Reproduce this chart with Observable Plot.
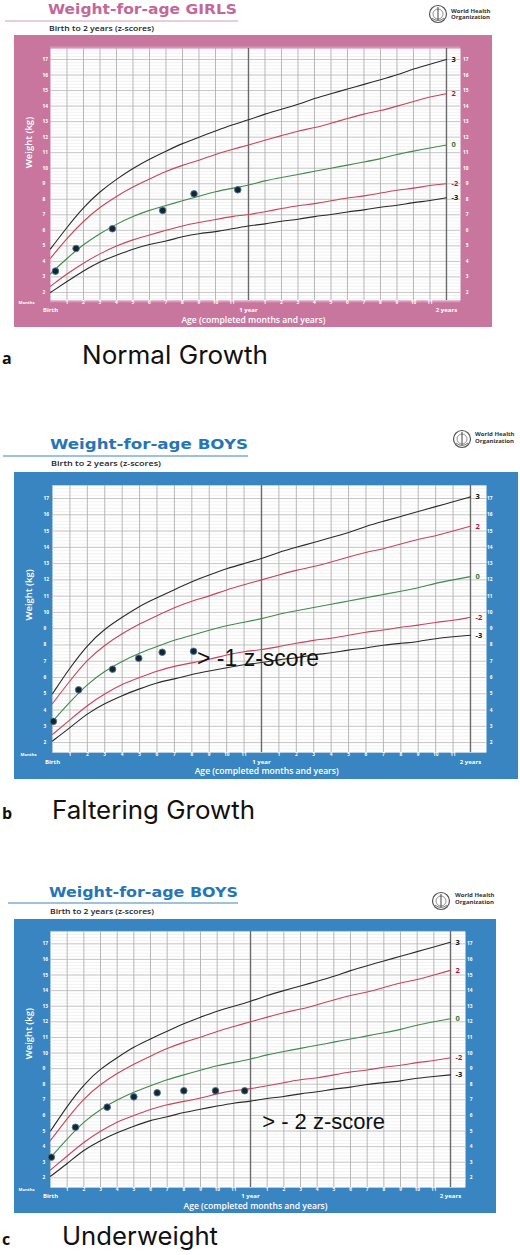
<!DOCTYPE html>
<html><head><meta charset="utf-8">
<script src="https://cdn.jsdelivr.net/npm/d3@7"></script>
<script src="https://cdn.jsdelivr.net/npm/@observablehq/plot@0.6"></script>
<style>
body{margin:0;background:#fff;}
#page{position:relative;width:520px;height:1255px;overflow:hidden;background:#fff;font-family:"Open Sans",sans-serif;}
.box{position:absolute;}
</style></head><body><div id="page"></div>
<script>
// ---- data ----
const ageMonths = [0,1,2,3,4,5,6,7,8,9,10,11,12,13,14,15,16,17,18,19,20,21,22,23,24];
const weightTicks = [2,3,4,5,6,7,8,9,10,11,12,13,14,15,16,17];
const zLabels = ["3","2","0","-2","-3"];

const girlsP3 = [4.8,6.2,7.5,8.5,9.3,10.0,10.6,11.1,11.6,12.0,12.4,12.8,13.1,13.5,13.8,14.1,14.5,14.8,15.1,15.4,15.7,16.0,16.4,16.7,17.0];
const girlsP2 = [4.2,5.5,6.6,7.5,8.2,8.8,9.3,9.8,10.2,10.5,10.9,11.2,11.5,11.8,12.1,12.4,12.6,12.9,13.2,13.5,13.7,14.0,14.3,14.6,14.8];
const girls0  = [3.2,4.2,5.1,5.8,6.4,6.9,7.3,7.6,7.9,8.2,8.5,8.7,8.9,9.2,9.4,9.6,9.8,10.0,10.2,10.4,10.6,10.9,11.1,11.3,11.5];
const girlsM2 = [2.4,3.2,3.9,4.5,5.0,5.4,5.7,6.0,6.3,6.5,6.7,6.9,7.0,7.2,7.4,7.6,7.7,7.9,8.1,8.2,8.4,8.6,8.7,8.9,9.0];
const girlsM3 = [2.0,2.7,3.4,4.0,4.4,4.8,5.1,5.3,5.6,5.8,5.9,6.1,6.3,6.4,6.6,6.7,6.9,7.0,7.2,7.3,7.5,7.6,7.8,7.9,8.1];

const boysP3 = [5.0,6.6,8.0,9.0,9.7,10.4,10.9,11.4,11.9,12.3,12.7,13.0,13.3,13.7,14.0,14.3,14.6,14.9,15.3,15.6,15.9,16.2,16.5,16.8,17.1];
const boysP2 = [4.4,5.8,7.1,8.0,8.7,9.3,9.8,10.3,10.7,11.0,11.4,11.7,12.0,12.3,12.6,12.8,13.1,13.4,13.7,13.9,14.2,14.5,14.7,15.0,15.3];
const boys0  = [3.3,4.5,5.6,6.4,7.0,7.5,7.9,8.3,8.6,8.9,9.2,9.4,9.6,9.9,10.1,10.3,10.5,10.7,10.9,11.1,11.3,11.5,11.8,12.0,12.2];
const boysM2 = [2.5,3.4,4.3,5.0,5.6,6.0,6.4,6.7,6.9,7.1,7.4,7.6,7.7,7.9,8.1,8.3,8.4,8.6,8.8,8.9,9.1,9.2,9.4,9.5,9.7];
const boysM3 = [2.1,2.9,3.8,4.4,4.9,5.3,5.7,5.9,6.2,6.4,6.6,6.8,6.9,7.1,7.2,7.4,7.5,7.7,7.8,8.0,8.1,8.2,8.4,8.5,8.6];

const normalAge = [0.3,1.55,3.75,6.8,8.7,11.35];
const normalWeight = [3.37,4.83,6.1,7.28,8.35,8.61];
const falteringAge = [0.05,1.5,3.45,4.95,6.3,8.1];
const falteringWeight = [3.3,5.24,6.51,7.18,7.55,7.61];
const underAge = [0.05,1.5,3.4,5.0,6.4,8.0,9.9,11.65];
const underWeight = [3.32,5.24,6.53,7.19,7.45,7.58,7.58,7.58];

// ---- helpers ----
const page = d3.select("#page");
const ov = page.append("svg").attr("width",520).attr("height",1255)
  .style("position","absolute").style("left","0px").style("top","0px");
function txt(x, y, s, o = {}) {
  const t = ov.append("text").attr("x", x).attr("y", y).text(s)
    .attr("font-family", o.family || "Open Sans")
    .attr("font-size", o.size || 10)
    .attr("font-weight", o.weight || "normal")
    .attr("fill", o.fill || "#111");
  if (o.width) t.attr("textLength", o.width).attr("lengthAdjust", "spacingAndGlyphs");
  return t;
}
function logo(cx, cy, tx, ty) {
  const g = ov.append("g");
  g.append("circle").attr("cx",cx).attr("cy",cy).attr("r",8.5).attr("fill","none").attr("stroke","#555").attr("stroke-width",1.2);
  g.append("circle").attr("cx",cx).attr("cy",cy).attr("r",5).attr("fill","none").attr("stroke","#777").attr("stroke-width",0.8);
  g.append("line").attr("x1",cx).attr("x2",cx).attr("y1",cy-7).attr("y2",cy+6).attr("stroke","#444").attr("stroke-width",1);
  g.append("path").attr("d",`M${cx-6},${cy+4}Q${cx},${cy+9} ${cx+6},${cy+4}`).attr("fill","none").attr("stroke","#666").attr("stroke-width",0.9);
  txt(tx, ty, "World Health", {size:6, weight:"bold", fill:"#333"});
  txt(tx, ty+6.5, "Organization", {size:6, weight:"bold", fill:"#333"});
}
function header(h) {
  txt(h.tx, h.base, h.title, {size:14.5, weight:"bold", fill:h.color, width:h.tw, family:"DejaVu Sans"});
  ov.append("rect").attr("x", h.ux1).attr("y", h.uy).attr("width", h.ux2 - h.ux1).attr("height", 1).attr("fill", h.ucolor);
  txt(h.tx + 1, h.sub, "Birth to 2 years (z-scores)", {size:7.6, weight:600, fill:"#222", width:h.sw});
  logo(h.lx, h.ly, h.ltx, h.lty);
}
function caption(letter, y, label, x, w) {
  txt(2, y, letter, {size:16, weight:"bold", fill:"#111", family:"Open Sans"});
  txt(x, y, label, {size:25, fill:"#111", family:"Inter", width:w});
}

function growthPanel(cfg) {
  const series = [
    {v: cfg.sd[0], label: zLabels[0], color: "#2a2a2a"},
    {v: cfg.sd[1], label: zLabels[1], color: "#c8435b"},
    {v: cfg.sd[2], label: zLabels[2], color: "#3f8a4f"},
    {v: cfg.sd[3], label: zLabels[3], color: "#c8435b"},
    {v: cfg.sd[4], label: zLabels[4], color: "#2a2a2a"}
  ];
  const labelColors = ["#111","#b8152e","#2f7a3a","#b8152e","#111"];
  const minor = d3.range(1.4, 17.9, 0.2);
  const monthGrid = ageMonths.filter(m => m % 12 !== 0);
  const monthTickData = monthGrid.map(m => ({m, t: String(m % 12)}));
  const visits = cfg.age.map((a, i) => ({a, w: cfg.weight[i]}));
  const wl = "white";
  const marks = [
    Plot.frame({fill: "white", stroke: "none"}),
    Plot.ruleY(minor, {stroke: "#e4e4e4", strokeWidth: 0.5}),
    Plot.ruleY(weightTicks, {stroke: "#bcbcbc", strokeWidth: 0.8}),
    Plot.ruleX(monthGrid, {stroke: "#b0b0b0", strokeWidth: 0.9}),
    Plot.ruleX([12, 24], {stroke: "#6a6a6a", strokeWidth: 1.4}),
    ...series.map(s => Plot.line(ageMonths, {x: d => d, y: (d, i) => s.v[i], stroke: s.color, strokeWidth: 1.1, curve: "basis"})),
    ...series.map((s, k) => Plot.text([{m: 24, w: s.v[24], t: s.label}], {x: "m", y: "w", text: "t", dx: 5, textAnchor: "start", fill: labelColors[k], fontSize: 7.5, fontWeight: "bold"})),
    Plot.dot(visits, {x: "a", y: "w", r: 3.3, fill: "#142636", stroke: "#50788c", strokeWidth: 0.9}),
    Plot.text(weightTicks, {y: d => d, text: d => String(d), frameAnchor: "left", dx: cfg.ldx, fill: wl, fontSize: 4.8, fontWeight: "bold"}),
    Plot.text(weightTicks, {y: d => d, text: d => String(d), frameAnchor: "right", dx: cfg.rdx, fill: wl, fontSize: 4.8, fontWeight: "bold"}),
    Plot.text([{w: cfg.wlabelY}], {y: "w", text: () => "Weight (kg)", frameAnchor: "left", dx: cfg.wdx, rotate: -90, fill: wl, fontSize: 9.5, fontWeight: 600}),
    Plot.text(monthTickData, {x: "m", text: "t", frameAnchor: "bottom", dy: cfg.mdy, fill: wl, fontSize: 4.8, fontWeight: "bold"}),
    Plot.text([{m: 0}], {x: "m", text: () => "Months", frameAnchor: "bottom", dy: cfg.mdy, dx: -24, fill: wl, fontSize: 4.2, fontWeight: "bold"}),
    Plot.text([{m: 0, t: "Birth"}, {m: 12, t: "1 year"}, {m: 24, t: "2 years"}], {x: "m", text: "t", frameAnchor: "bottom", dy: cfg.bdy, fill: wl, fontSize: 6, fontWeight: "bold"}),
    Plot.text([{m: 12.3}], {x: "m", text: () => "Age (completed months and years)", frameAnchor: "bottom", dy: cfg.ady, fill: wl, fontSize: 8.6, fontWeight: 600})
  ];
  if (cfg.note) marks.push(Plot.text([cfg.note], {x: "m", y: "w", text: "t", textAnchor: "start", fontSize: cfg.note.size, fontFamily: "Liberation Sans", fill: "#111"}));
  const p = Plot.plot({
    width: cfg.w, height: cfg.h,
    marginLeft: cfg.ml, marginRight: cfg.mr, marginTop: cfg.mt, marginBottom: cfg.mb,
    style: {background: cfg.bg, fontFamily: "Open Sans", overflow: "visible"},
    x: {domain: [0, cfg.xmax], axis: null},
    y: {domain: [cfg.ymin, cfg.ymax], axis: null},
    marks
  });
  page.append("div").attr("class", "box").style("left", cfg.left + "px").style("top", cfg.top + "px").node().appendChild(p);
}

// ---- panel a ----
header({tx:48, base:14, title:"Weight-for-age GIRLS", color:"#c4679a", tw:189, ux1:5, ux2:238, uy:20.5, ucolor:"#d69bb9", sub:30.5, sw:105, lx:438, ly:14, ltx:451, lty:12.5});
growthPanel({left:14, top:35, w:478, h:292, ml:36, mr:32, mt:13, mb:27, xmax:24.85, ymin:1.48, ymax:17.71,
  bg:"#c9769f", sd:[girlsP3, girlsP2, girls0, girlsM2, girlsM3], age:normalAge, weight:normalWeight,
  ldx:-8, rdx:8, wdx:-22, wlabelY:10, mdy:3.5, bdy:11, ady:22});
caption("a", 364, "Normal Growth", 82, 186);

// ---- panel b ----
header({tx:50, base:449, title:"Weight-for-age BOYS", color:"#2676b7", tw:198, ux1:3, ux2:248, uy:455.5, ucolor:"#3a86c1", sub:466, sw:110, lx:462, ly:439, ltx:475, lty:436});
growthPanel({left:14, top:472, w:504, h:307, ml:38, mr:32, mt:13, mb:27, xmax:24.92, ymin:1.39, ymax:17.8,
  bg:"#3985c1", sd:[boysP3, boysP2, boys0, boysM2, boysM3], age:falteringAge, weight:falteringWeight,
  ldx:-9, rdx:6, wdx:-24, wlabelY:9.5, mdy:3, bdy:11, ady:21,
  note:{m:8.3, w:7.17, t:"> -1 z-score", size:23}});
caption("b", 819, "Faltering Growth", 52, 203);

// ---- panel c ----
header({tx:49, base:897, title:"Weight-for-age BOYS", color:"#2676b7", tw:189, ux1:8, ux2:238, uy:902.5, ucolor:"#3a86c1", sub:913.5, sw:104, lx:441, ly:901, ltx:455, lty:897});
growthPanel({left:14, top:919, w:482, h:294, ml:36, mr:31, mt:12, mb:26, xmax:24.9, ymin:1.38, ymax:17.79,
  bg:"#3985c1", sd:[boysP3, boysP2, boys0, boysM2, boysM3], age:underAge, weight:underWeight,
  ldx:-8, rdx:7, wdx:-22, wlabelY:9.6, mdy:3, bdy:10, ady:21,
  note:{m:12.7, w:5.6, t:"> - 2 z-score", size:22}});
caption("c", 1245, "Underweight", 62, 156);
</script></body></html>
